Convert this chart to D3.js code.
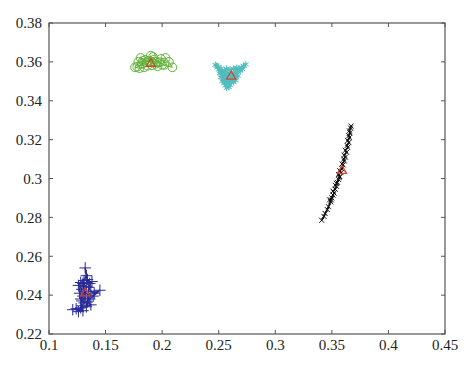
<!DOCTYPE html>
<html lang="en">
<head>
<meta charset="UTF-8" />
<script src="https://cdn.jsdelivr.net/npm/d3@7"></script>
<style>
  body { margin: 0; background: #fff; }
</style>
</head>
<body>
<svg width="474" height="368"></svg>
<script>
const xTicks = [0.1, 0.15, 0.2, 0.25, 0.3, 0.35, 0.4, 0.45];
const yTicks = [0.22, 0.24, 0.26, 0.28, 0.3, 0.32, 0.34, 0.36, 0.38];

// cluster 1: green circles
const greenPts = [[0.178,0.3575],[0.182,0.3590],[0.185,0.3610],[0.181,0.3620],[0.188,0.3605],[0.192,0.3625],
  [0.195,0.3600],[0.199,0.3615],[0.203,0.3620],[0.206,0.3600],[0.209,0.3572],[0.200,0.3585],[0.196,0.3578],
  [0.191,0.3582],[0.187,0.3580],[0.184,0.3572],[0.180,0.3568],[0.176,0.3572],[0.179,0.3600],[0.186,0.3598],
  [0.190,0.3632],[0.194,0.3590],[0.198,0.3598],[0.202,0.3585],[0.193,0.3612],[0.183,0.3605]];
// cluster 2: cyan stars
const cyanPts = [[0.247,0.3585],[0.249,0.3572],[0.250,0.3560],[0.252,0.3565],[0.253,0.3555],[0.251,0.3540],
  [0.254,0.3530],[0.252,0.3520],[0.255,0.3510],[0.253,0.3500],[0.255,0.3490],[0.256,0.3478],[0.257,0.3465],
  [0.259,0.3470],[0.260,0.3480],[0.258,0.3492],[0.261,0.3500],[0.263,0.3495],[0.265,0.3505],[0.264,0.3520],
  [0.262,0.3515],[0.260,0.3510],[0.257,0.3520],[0.256,0.3535],[0.258,0.3545],[0.261,0.3535],[0.263,0.3545],
  [0.266,0.3535],[0.267,0.3550],[0.265,0.3560],[0.268,0.3565],[0.270,0.3572],[0.272,0.3580],[0.274,0.3588],
  [0.271,0.3562],[0.269,0.3555],[0.266,0.3570],[0.263,0.3565],[0.260,0.3560],[0.257,0.3565],[0.255,0.3555],
  [0.254,0.3545],[0.256,0.3525],[0.259,0.3530],[0.262,0.3525],[0.264,0.3535],[0.267,0.3528],[0.265,0.3515],
  [0.262,0.3505],[0.259,0.3500],[0.256,0.3505],[0.254,0.3515],[0.252,0.3545],[0.250,0.3575],[0.248,0.3580]];
// cluster 3: black crosses
const blackPts = [[0.341,0.2785],[0.343,0.2805],[0.344,0.2820],[0.346,0.2840],[0.347,0.2855],[0.349,0.2880],
  [0.348,0.2890],[0.350,0.2900],[0.3495,0.2890],[0.351,0.2915],[0.352,0.2925],[0.351,0.2935],[0.353,0.2945],
  [0.354,0.2960],[0.353,0.2965],[0.355,0.2980],[0.354,0.2975],[0.356,0.2995],[0.3565,0.3005],[0.357,0.3010],
  [0.356,0.3020],[0.358,0.3030],[0.357,0.3040],[0.359,0.3050],[0.360,0.3070],[0.359,0.3075],[0.361,0.3090],
  [0.3605,0.3100],[0.362,0.3110],[0.361,0.3120],[0.363,0.3135],[0.362,0.3145],[0.364,0.3160],[0.3635,0.3170],
  [0.365,0.3185],[0.364,0.3195],[0.3655,0.3210],[0.365,0.3220],[0.366,0.3235],[0.3655,0.3245],[0.3665,0.3260],
  [0.367,0.3270]];
// cluster 4: blue plus signs
const bluePts = [[0.121,0.2325],[0.124,0.2330],[0.126,0.2315],[0.128,0.2335],[0.130,0.2320],[0.129,0.2345],
  [0.131,0.2360],[0.128,0.2380],[0.130,0.2395],[0.127,0.2410],[0.129,0.2430],[0.126,0.2450],[0.128,0.2465],
  [0.131,0.2475],[0.133,0.2500],[0.132,0.2540],[0.134,0.2480],[0.136,0.2460],[0.138,0.2470],[0.135,0.2440],
  [0.137,0.2420],[0.140,0.2410],[0.145,0.2425],[0.139,0.2395],[0.136,0.2380],[0.134,0.2365],[0.137,0.2350],
  [0.133,0.2340],[0.135,0.2400],[0.131,0.2420],[0.133,0.2445],[0.130,0.2460],[0.132,0.2385],[0.129,0.2370]];
// cluster centres (red triangles)
const centers = [[0.190,0.359],[0.261,0.3525],[0.359,0.304],[0.132,0.241]];

const svg = d3.select("svg");
const m = { left: 49, right: 445, top: 23, bottom: 334 };

const x = d3.scaleLinear().domain([0.1, 0.45]).range([m.left, m.right]);
const y = d3.scaleLinear().domain([0.22, 0.38]).range([m.bottom, m.top]);

const axisColor = "#555";
const font = "'Liberation Serif', 'Times New Roman', 'DejaVu Serif', serif";
const tick = 4;

// frame
svg.append("rect")
  .attr("x", m.left).attr("y", m.top)
  .attr("width", m.right - m.left).attr("height", m.bottom - m.top)
  .attr("fill", "none").attr("stroke", axisColor).attr("stroke-width", 1.2);

// ticks on all four sides, pointing inward
xTicks.forEach(t => {
  svg.append("line").attr("x1", x(t)).attr("x2", x(t)).attr("y1", m.bottom).attr("y2", m.bottom - tick)
    .attr("stroke", axisColor);
  svg.append("line").attr("x1", x(t)).attr("x2", x(t)).attr("y1", m.top).attr("y2", m.top + tick)
    .attr("stroke", axisColor);
  svg.append("text").attr("x", x(t)).attr("y", 350).attr("text-anchor", "middle")
    .attr("font-family", font).attr("font-size", 15).attr("fill", "#222").text(t);
});
yTicks.forEach(t => {
  svg.append("line").attr("x1", m.left).attr("x2", m.left + tick).attr("y1", y(t)).attr("y2", y(t))
    .attr("stroke", axisColor);
  svg.append("line").attr("x1", m.right).attr("x2", m.right - tick).attr("y1", y(t)).attr("y2", y(t))
    .attr("stroke", axisColor);
  svg.append("text").attr("x", 42).attr("y", y(t)).attr("dy", "0.35em").attr("text-anchor", "end")
    .attr("font-family", font).attr("font-size", 15).attr("fill", "#222").text(t);
});

const line = d3.line().x(d => x(d[0])).y(d => y(d[1]));

function drawCluster(pts, color, symbolType, size, lw) {
  svg.append("path").datum(pts).attr("d", line)
    .attr("fill", "none").attr("stroke", color).attr("stroke-width", lw);
  svg.selectAll(null).data(pts).join("path")
    .attr("transform", d => `translate(${x(d[0])},${y(d[1])})`)
    .attr("d", d3.symbol().type(symbolType).size(size))
    .attr("fill", "none").attr("stroke", color).attr("stroke-width", 1);
}

drawCluster(greenPts, "#62b43a", d3.symbolCircle, 60, 1);
drawCluster(cyanPts, "#52bcbc", d3.symbolAsterisk, 30, 2);
drawCluster(blackPts, "#111", d3.symbolX || d3.symbolCross2, 18, 1.6);
drawCluster(bluePts, "#2a2a96", d3.symbolPlus || d3.symbolCross2, 45, 1.5);

svg.selectAll(".center").data(centers).join("path")
  .attr("class", "center")
  .attr("transform", d => `translate(${x(d[0])},${y(d[1])})`)
  .attr("d", d3.symbol().type(d3.symbolTriangle2 || d3.symbolTriangle).size(60))
  .attr("fill", "none").attr("stroke", "#d2452f").attr("stroke-width", 1.2);
</script>
</body>
</html>
